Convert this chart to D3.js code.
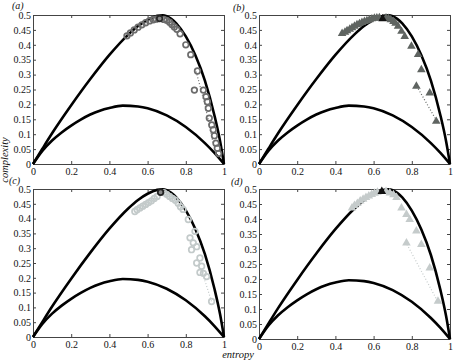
<!DOCTYPE html>
<html>
<head>
<meta charset="utf-8">
<script src="https://cdn.jsdelivr.net/npm/d3@7"></script>
<style>
  body { margin: 0; background: #fff; }
  svg text { font-family: "Liberation Serif", "DejaVu Serif", serif; fill: #111; }
</style>
</head>
<body>
<div id="chart"></div>
<script>
// axis ticks
var xTicks = [0, 0.2, 0.4, 0.6, 0.8, 1];
var yTicks = [0, 0.05, 0.1, 0.15, 0.2, 0.25, 0.3, 0.35, 0.4, 0.45, 0.5];

// bounding curves, entropy / complexity
var upperH = [0, 0.05, 0.1, 0.2, 0.3, 0.4, 0.5, 0.55, 0.6, 0.65, 0.68, 0.7, 0.75, 0.8, 0.85, 0.9, 0.95, 0.98, 1];
var upperC = [0, 0.052, 0.103, 0.197, 0.285, 0.366, 0.435, 0.463, 0.484, 0.497, 0.499, 0.496, 0.472, 0.428, 0.365, 0.28, 0.163, 0.075, 0];
var lowerH = [0, 0.05, 0.1, 0.15, 0.2, 0.25, 0.3, 0.35, 0.4, 0.47, 0.55, 0.6, 0.7, 0.8, 0.9, 0.95, 1];
var lowerC = [0, 0.045, 0.079, 0.106, 0.129, 0.149, 0.166, 0.179, 0.188, 0.196, 0.193, 0.187, 0.163, 0.124, 0.07, 0.037, 0];

// panel (a) - circles
var aPoints = [[0.492, 0.430], [0.51, 0.440], [0.53, 0.450], [0.55, 0.459], [0.57, 0.467], [0.59, 0.474], [0.61, 0.480], [0.63, 0.484], [0.645, 0.486],
  [0.685, 0.485], [0.70, 0.482], [0.715, 0.476], [0.727, 0.468], [0.74, 0.460], [0.753, 0.452], [0.77, 0.437], [0.80, 0.40], [0.826, 0.367], [0.861, 0.312],
  [0.845, 0.248], [0.892, 0.248], [0.906, 0.226], [0.913, 0.209], [0.918, 0.187], [0.923, 0.154], [0.936, 0.131], [0.944, 0.115], [0.95, 0.095],
  [0.958, 0.070], [0.965, 0.053], [0.972, 0.035]];
var aMark = [[0.663, 0.488]];
var aTrail = [[0.85, 0.32], [0.90, 0.20], [0.945, 0.065]];

// panel (b) - triangles
var bPoints = [[0.435, 0.438], [0.45, 0.442], [0.461, 0.447], [0.475, 0.452], [0.487, 0.457], [0.50, 0.462], [0.513, 0.467], [0.526, 0.471], [0.539, 0.475],
  [0.552, 0.478], [0.565, 0.481], [0.578, 0.484], [0.591, 0.487], [0.604, 0.489], [0.617, 0.490], [0.63, 0.491],
  [0.665, 0.490], [0.678, 0.488], [0.69, 0.484], [0.704, 0.478], [0.715, 0.472], [0.728, 0.462], [0.746, 0.445], [0.763, 0.428], [0.798, 0.395],
  [0.833, 0.367], [0.85, 0.316], [0.824, 0.261], [0.894, 0.238], [0.928, 0.143]];
var bMark = [[0.647, 0.487]];
var bTrail = [[0.826, 0.261], [0.93, 0.145]];

// panel (c) - circles
var cPoints = [[0.533, 0.424], [0.545, 0.43], [0.56, 0.436], [0.575, 0.442], [0.59, 0.448], [0.605, 0.454], [0.62, 0.46], [0.635, 0.468], [0.65, 0.475],
  [0.685, 0.488], [0.70, 0.482], [0.715, 0.475], [0.73, 0.468], [0.745, 0.462], [0.76, 0.452], [0.772, 0.44], [0.786, 0.431], [0.813, 0.397],
  [0.848, 0.357], [0.822, 0.335], [0.839, 0.318], [0.83, 0.295], [0.857, 0.305], [0.874, 0.267], [0.857, 0.25], [0.883, 0.239], [0.874, 0.218],
  [0.892, 0.215], [0.909, 0.204], [0.935, 0.12]];
var cMark = [[0.668, 0.489]];
var cTrail = [[0.88, 0.23], [0.935, 0.12]];

// panel (d) - triangles
var dPoints = [[0.487, 0.437], [0.50, 0.445], [0.515, 0.452], [0.53, 0.46], [0.545, 0.466], [0.56, 0.472], [0.575, 0.477], [0.59, 0.482], [0.605, 0.486], [0.62, 0.489],
  [0.665, 0.492], [0.685, 0.487], [0.704, 0.481], [0.72, 0.472], [0.746, 0.437], [0.772, 0.415], [0.789, 0.398], [0.824, 0.36], [0.85, 0.315],
  [0.772, 0.32], [0.894, 0.237], [0.937, 0.126]];
var dMark = [[0.643, 0.492]];
var dTrail = [[0.775, 0.315], [0.94, 0.12]];

var W = 474, H = 361;

var svg = d3.select("#chart").append("svg")
  .attr("width", W)
  .attr("height", H);

var panels = [
  { name: "(a)", box: [33, 224, 15, 164], lx: 12, ly: 9, pts: aPoints, mark: aMark, trail: aTrail, shape: "circle", color: "#6c6c6c", markColor: "#2a2a2a" },
  { name: "(b)", box: [259, 450, 15, 164], lx: 233, ly: 11, pts: bPoints, mark: bMark, trail: bTrail, shape: "triangle", color: "#5f6461", markColor: "#111" },
  { name: "(c)", box: [33, 224, 189, 337], lx: 9, ly: 184, pts: cPoints, mark: cMark, trail: cTrail, shape: "circle", color: "#c3caca", markColor: "#222" },
  { name: "(d)", box: [259, 450, 189, 339], lx: 231, ly: 185, pts: dPoints, mark: dMark, trail: dTrail, shape: "triangle", color: "#c5cbcb", markColor: "#111" }
];

panels.forEach(drawPanel);

function drawPanel(p) {
  var x = d3.scaleLinear().domain([0, 1]).range([p.box[0], p.box[1]]);
  var y = d3.scaleLinear().domain([0, 0.5]).range([p.box[3], p.box[2]]);
  var g = svg.append("g");

  // frame with inward ticks on all four sides
  var left = d3.axisLeft(y).tickValues(yTicks).tickSizeInner(-3).tickSizeOuter(0).tickFormat(d3.format("~g")).tickPadding(2);
  var right = d3.axisRight(y).tickValues(yTicks).tickSizeInner(-3).tickSizeOuter(0).tickFormat("");
  var bottom = d3.axisBottom(x).tickValues(xTicks).tickSizeInner(-3).tickSizeOuter(0).tickFormat(d3.format("~g")).tickPadding(4);
  var top = d3.axisTop(x).tickValues(xTicks).tickSizeInner(-3).tickSizeOuter(0).tickFormat("");

  g.append("g").attr("transform", "translate(" + p.box[0] + ",0)").call(left);
  g.append("g").attr("transform", "translate(" + p.box[1] + ",0)").call(right);
  g.append("g").attr("transform", "translate(0," + p.box[3] + ")").call(bottom);
  g.append("g").attr("transform", "translate(0," + p.box[2] + ")").call(top);

  g.selectAll(".domain").attr("stroke", "#444").attr("stroke-width", 1);
  g.selectAll(".tick line").attr("stroke", "#444");
  g.selectAll(".tick text").attr("font-size", 10).attr("font-family", "Liberation Serif").attr("fill", "#111");

  // bounding curves
  var line = d3.line()
    .x(function (d) { return x(d[0]); })
    .y(function (d) { return y(d[1]); })
    .curve(d3.curveMonotoneX);

  g.append("path")
    .datum(d3.zip(upperH, upperC))
    .attr("d", line)
    .attr("fill", "none").attr("stroke", "#000").attr("stroke-width", 2.6);
  g.append("path")
    .datum(d3.zip(lowerH, lowerC))
    .attr("d", line)
    .attr("fill", "none").attr("stroke", "#000").attr("stroke-width", 2.6);

  // dotted trail
  g.append("path")
    .datum(p.trail)
    .attr("d", d3.line().x(function (d) { return x(d[0]); }).y(function (d) { return y(d[1]); }))
    .attr("fill", "none").attr("stroke", p.color).attr("stroke-width", 1.2).attr("stroke-dasharray", "1,2");

  // markers
  if (p.shape == "circle") {
    g.selectAll(".pt").data(p.pts).enter().append("circle")
      .attr("cx", function (d) { return x(d[0]); })
      .attr("cy", function (d) { return y(d[1]); })
      .attr("r", 2.8)
      .attr("fill", "none").attr("stroke", p.color).attr("stroke-width", 1.7);
    g.selectAll(".mk").data(p.mark).enter().append("circle")
      .attr("cx", function (d) { return x(d[0]); })
      .attr("cy", function (d) { return y(d[1]); })
      .attr("r", 2.8)
      .attr("fill", "#888").attr("stroke", p.markColor).attr("stroke-width", 1.8);
  } else {
    var tri = d3.symbol().type(d3.symbolTriangle).size(32);
    g.selectAll(".pt").data(p.pts).enter().append("path")
      .attr("d", tri)
      .attr("transform", function (d) { return "translate(" + x(d[0]) + "," + y(d[1]) + ")"; })
      .attr("fill", p.color);
    g.selectAll(".mk").data(p.mark).enter().append("path")
      .attr("d", tri)
      .attr("transform", function (d) { return "translate(" + x(d[0]) + "," + y(d[1]) + ")"; })
      .attr("fill", p.markColor);
  }

  // panel letter
  svg.append("text")
    .attr("x", p.lx).attr("y", p.ly)
    .attr("font-size", 10).attr("font-style", "italic")
    .text(p.name);
}

// axis titles
svg.append("text")
  .attr("transform", "translate(8,160) rotate(-90)")
  .attr("text-anchor", "middle")
  .attr("font-size", 10.5).attr("font-style", "italic")
  .text("complexity");

svg.append("text")
  .attr("x", 238).attr("y", 358)
  .attr("text-anchor", "middle")
  .attr("font-size", 10.5).attr("font-style", "italic")
  .text("entropy");
</script>
</body>
</html>
